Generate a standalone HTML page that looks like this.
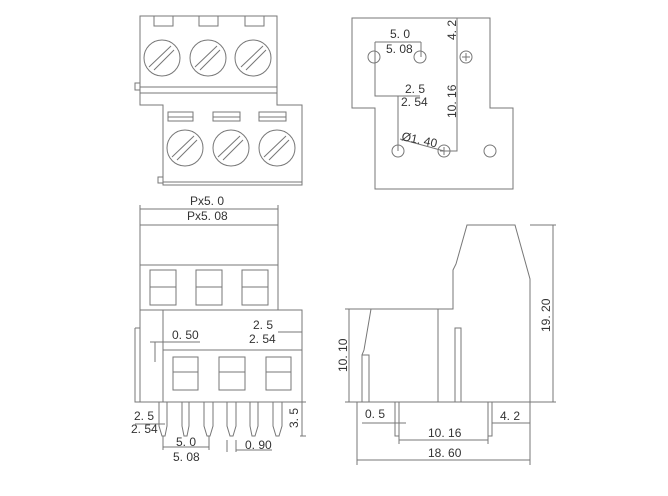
<!DOCTYPE html>
<html><head><style>
html,body{margin:0;padding:0;background:#fff;}
svg{display:block;}
text{font-family:"Liberation Sans",sans-serif;font-size:12px;fill:#333;}
</style></head><body>
<svg width="668" height="496" viewBox="0 0 668 496" xmlns="http://www.w3.org/2000/svg">
<g fill="none" stroke="#777" stroke-width="1">
<!-- Top-left view -->
<path d="M140 16 H277 V105 H302 V185 H163 V105 H140 Z"/>
<rect x="154" y="16" width="19" height="10"/><rect x="199" y="16" width="19" height="10"/><rect x="245" y="16" width="19" height="10"/>
<circle cx="162" cy="58" r="18"/><circle cx="208" cy="58" r="18"/><circle cx="253" cy="58" r="18"/>
<path d="M149 67 L171 46 M154 70 L174 50 M195 67 L217 46 M200 70 L220 50 M241 67 L263 46 M246 70 L266 50"/>
<path d="M140 87 H277 M140 93 H277"/>
<rect x="135" y="83" width="5" height="7"/>
<rect x="168" y="112" width="25" height="9"/><rect x="213" y="112" width="27" height="9"/><rect x="259" y="112" width="27" height="9"/>
<path d="M168 117 H193 M213 117 H240 M259 117 H286"/>
<circle cx="185" cy="148" r="18"/><circle cx="231" cy="148" r="18"/><circle cx="277" cy="148" r="18"/>
<path d="M172 157 L194 136 M177 160 L197 140 M218 157 L240 136 M223 160 L243 140 M264 157 L286 136 M269 160 L289 140"/>
<path d="M163 182 H302"/><rect x="158" y="177" width="5" height="6"/>

<!-- Top-right view -->
<path d="M352 18 H490 V108 H513 V189 H375 V108 H352 Z"/>
<circle cx="374" cy="57" r="6"/><circle cx="420" cy="57" r="6"/><circle cx="466" cy="57" r="6"/>
<circle cx="398" cy="151" r="6"/><circle cx="444" cy="151" r="6"/><circle cx="490" cy="151" r="6"/>
<path d="M375 42 H421 M375 42 V57 M421 42 V57 M457 18 V151 H444 M375 57 V96 H420 M398 96 V151 M400 139 L444 151 M440 151 H448 M444 147 V155 M462 57 H470 M466 53 V61"/>

<!-- Bottom-left front -->
<path d="M140 209 H278 M140 205 V225 M278 205 V225"/>
<path d="M140 225 H278 V310 M140 225 V402 M140 310 H302 V402 H140 M163 310 V402 M163 350 H302"/>
<path d="M140 265 H278"/>
<rect x="150" y="270" width="26" height="35"/><rect x="196" y="270" width="26" height="35"/><rect x="242" y="270" width="26" height="35"/>
<path d="M150 287 H176 M196 287 H222 M242 287 H268"/>
<rect x="173" y="357" width="25" height="33"/><rect x="219" y="357" width="26" height="33"/><rect x="266" y="357" width="25" height="33"/>
<path d="M173 372 H198 M219 372 H245 M266 372 H291"/>
<path d="M135 328 H140 M135 328 V402 H140"/>
<path d="M159 402 V426 L162 436 H165 L167 426 V402 M182 402 V426 L184 436 H187 L189 426 V402 M204 402 V426 L207 436 H210 L213 426 V402 M227 402 V426 L230 436 H233 L236 426 V402 M250 402 V426 L252 436 H255 L258 426 V402 M273 402 V426 L276 436 H279 L282 426 V402"/>
<path d="M278 332 H302 M150 342 H200 M155 342 V362 M163 342 V360 M135 424 H165 M163 436 V450 M209 436 V450 M163 447 H209 M227 440 V452 M236 440 V452 M236 450 H272 M300 402 H306 M300 436 H306 M302 402 V436"/>

<!-- Side view -->
<path d="M362 402 V355 L364 350 L371 309 H453 V270 L456 264 L467 225 H515 L530 279 V402 Z"/>
<path d="M438 309 V402"/>
<rect x="362" y="355" width="7" height="47"/><rect x="455" y="328" width="6" height="74"/>
<rect x="395" y="402" width="4" height="34"/><rect x="488" y="402" width="4" height="34"/>
<path d="M530 225 H556 M553 225 V402 M530 402 H556 M345 309 H371 M349 309 V402 M345 402 H362"/>
<path d="M357 402 V465 M530 402 V465 M357 460 H530 M399 436 V444 M488 436 V444 M399 440 H488 M492 423 H530 M362 423 H406"/>
</g>
<text x="390" y="38">5. 0</text><text x="386" y="53">5. 08</text>
<text transform="translate(456,40) rotate(-90)">4. 2</text>
<text transform="translate(456,118) rotate(-90)">10. 16</text>
<text x="405" y="93">2. 5</text><text x="401" y="106">2. 54</text>
<text x="401" y="140" transform="rotate(12 401 140)">Ø1. 40</text>
<text x="190" y="205">Px5. 0</text><text x="187" y="220">Px5. 08</text>
<text x="253" y="329">2. 5</text><text x="249" y="343">2. 54</text>
<text x="172" y="339">0. 50</text>
<text x="134" y="420">2. 5</text><text x="131" y="433">2. 54</text>
<text x="176" y="446">5. 0</text><text x="173" y="461">5. 08</text>
<text x="245" y="449">0. 90</text>
<text transform="translate(298,428) rotate(-90)">3. 5</text>
<text transform="translate(347,372) rotate(-90)">10. 10</text>
<text transform="translate(550,332) rotate(-90)">19. 20</text>
<text x="365" y="418">0. 5</text>
<text x="428" y="437">10. 16</text>
<text x="500" y="420">4. 2</text>
<text x="428" y="457">18. 60</text>
</svg>
</body></html>
